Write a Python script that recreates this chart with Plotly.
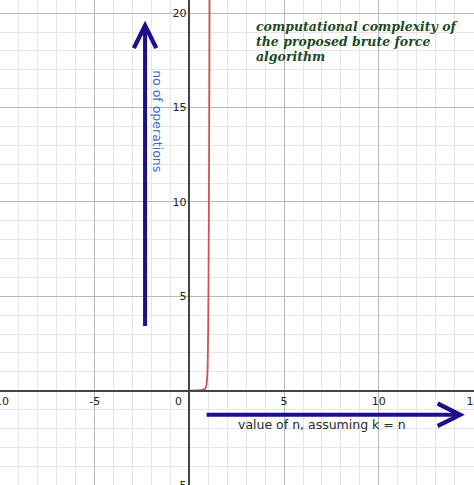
import plotly.graph_objects as go

# operations curve
n_vals = [0, 0.4, 0.7, 0.82, 0.88, 0.92, 0.95, 0.97, 0.99, 1.01, 1.03, 1.05, 1.07]
ops_vals = [0, 0.01, 0.04, 0.1, 0.2, 0.45, 0.9, 1.6, 3.0, 5.5, 9.5, 15.0, 22.0]

x_ticks = [-10, -5, 0, 5, 10, 15]
x_labels = ["-10", "-5", "", "5", "10", "15"]
y_ticks = [-5, 0, 5, 10, 15, 20]
y_labels = ["-5", "", "5", "10", "15", "20"]
minor_x = list(range(-10, 16))
minor_y = list(range(-5, 21))

title_lines = ["computational complexity of", "the proposed brute force", "algorithm"]

x_range = [-10, 15.03]
y_range = [-5, 20.7]

arrow_col = "#1e0f8c"

fig = go.Figure()
fig.add_trace(
    go.Scatter(
        x=n_vals,
        y=ops_vals,
        mode="lines",
        line=dict(color="#cc5551", width=1.8, shape="spline"),
        hoverinfo="skip",
    )
)

axis_font = dict(family="DejaVu Sans", size=11, color="#222")
fig.update_xaxes(
    range=x_range,
    tickmode="array",
    tickvals=x_ticks,
    ticktext=x_labels,
    showgrid=True,
    gridcolor="#b8b8b8",
    gridwidth=1,
    minor=dict(tickmode="array", tickvals=minor_x, showgrid=True, gridcolor="#e6e6e6"),
    zeroline=False,
    showline=True,
    linecolor="#444",
    linewidth=1.5,
    anchor="free",
    position=(0 - y_range[0]) / (y_range[1] - y_range[0]),
    ticks="",
    tickfont=axis_font,
    ticklabeloverflow="allow",
    automargin=False,
    fixedrange=True,
)
fig.update_yaxes(
    range=y_range,
    tickmode="array",
    tickvals=y_ticks,
    ticktext=y_labels,
    showgrid=True,
    gridcolor="#b8b8b8",
    gridwidth=1,
    minor=dict(tickmode="array", tickvals=minor_y, showgrid=True, gridcolor="#e6e6e6"),
    zeroline=False,
    showline=True,
    linecolor="#444",
    linewidth=1.5,
    anchor="free",
    position=(0 - x_range[0]) / (x_range[1] - x_range[0]),
    ticks="",
    tickfont=axis_font,
    ticklabeloverflow="allow",
    automargin=False,
    fixedrange=True,
)

# arrows drawn in data space
fig.add_annotation(
    x=-2.34, y=19.6, ax=-2.34, ay=3.35, xref="x", yref="y", axref="x", ayref="y",
    text="", showarrow=True, arrowhead=5, arrowsize=1.1, arrowwidth=4, arrowcolor=arrow_col,
)
fig.add_annotation(
    x=14.55, y=-1.28, ax=0.83, ay=-1.28, xref="x", yref="y", axref="x", ayref="y",
    text="", showarrow=True, arrowhead=5, arrowsize=1.1, arrowwidth=4, arrowcolor=arrow_col,
)

fig.add_annotation(
    x=-0.3, y=-0.15, xref="x", yref="y", text="0", showarrow=False,
    xanchor="right", yanchor="top", font=axis_font,
)
fig.add_annotation(
    x=2.45, y=-1.82, xref="x", yref="y", text="value of n, assuming k = n", showarrow=False,
    xanchor="left", yanchor="middle", font=dict(family="DejaVu Sans", size=12.5, color="#2a2a2a"),
)
fig.add_annotation(
    x=-1.7, y=14.27, xref="x", yref="y", text="no of operations", showarrow=False,
    textangle=90, font=dict(family="DejaVu Sans", size=12.5, color="#3a6cd0"),
)
for i, line in enumerate(title_lines):
    fig.add_annotation(
        x=3.4, y=19.27 - 0.77 * i, xref="x", yref="y",
        text="<b><i>" + line + "</i></b>",
        showarrow=False, xanchor="left", yanchor="middle",
        font=dict(family="DejaVu Serif", size=12.5, color="#1d4a22"),
    )

fig.update_layout(
    width=474,
    height=485,
    margin=dict(l=0, r=0, t=0, b=0),
    plot_bgcolor="white",
    paper_bgcolor="white",
    showlegend=False,
)

# page body has a default 8px margin, drop it so the plot fills the window
fig.write_html(
    "out.html",
    config={"displayModeBar": False},
    post_script="document.body.style.margin = '0';",
)
